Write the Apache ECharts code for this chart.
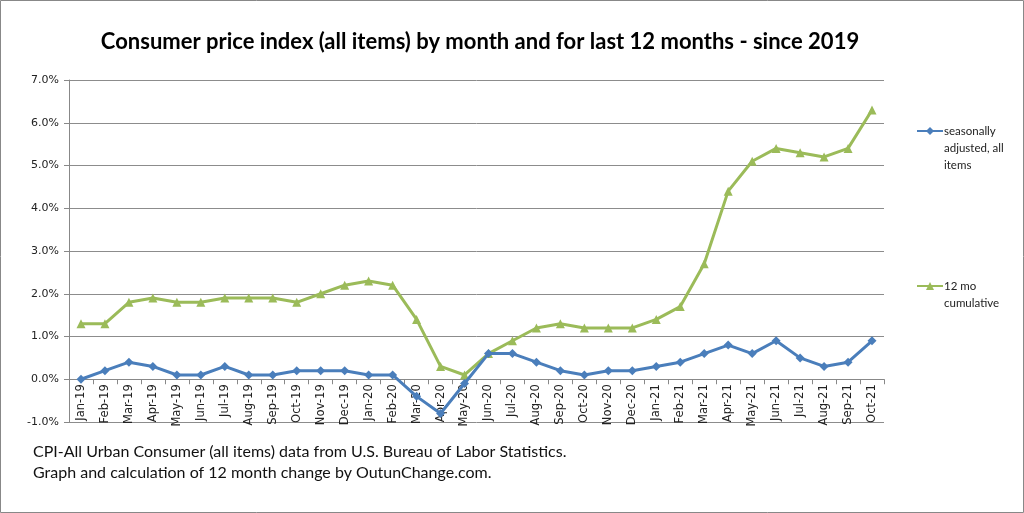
<!DOCTYPE html>
<html>
<head>
<meta charset="utf-8">
<script src="https://cdn.jsdelivr.net/npm/echarts@6/dist/echarts.min.js"></script>
<style>
html,body{margin:0;padding:0;background:#fff;}
#chart{width:1024px;height:513px;}
</style>
</head>
<body>
<div id="chart"></div>
<script>
const categories = ['Jan-19','Feb-19','Mar-19','Apr-19','May-19','Jun-19','Jul-19','Aug-19','Sep-19','Oct-19','Nov-19','Dec-19',
  'Jan-20','Feb-20','Mar-20','Apr-20','May-20','Jun-20','Jul-20','Aug-20','Sep-20','Oct-20','Nov-20','Dec-20',
  'Jan-21','Feb-21','Mar-21','Apr-21','May-21','Jun-21','Jul-21','Aug-21','Sep-21','Oct-21'];
const seasonallyAdjusted = [0.0,0.2,0.4,0.3,0.1,0.1,0.3,0.1,0.1,0.2,0.2,0.2,
  0.1,0.1,-0.4,-0.8,-0.1,0.6,0.6,0.4,0.2,0.1,0.2,0.2,
  0.3,0.4,0.6,0.8,0.6,0.9,0.5,0.3,0.4,0.9];
const cumulative12mo = [1.3,1.3,1.8,1.9,1.8,1.8,1.9,1.9,1.9,1.8,2.0,2.2,
  2.3,2.2,1.4,0.3,0.1,0.6,0.9,1.2,1.3,1.2,1.2,1.2,
  1.4,1.7,2.7,4.4,5.1,5.4,5.3,5.2,5.4,6.3];
const seriesNames = ['seasonally adjusted, all items','12 mo cumulative'];
const titleText = 'Consumer price index (all items) by month and for last 12 months - since 2019';
const footerLines = ['CPI-All Urban Consumer (all items) data from U.S. Bureau of Labor Statistics.',
  'Graph and calculation of 12 month change by OutunChange.com.'];

const blue = '#4A7EBB', green = '#9BBB59';
const yMin = -1, yMax = 7;
const gridTop = 80, gridBottom = 91, chartH = 513;
const plotH = chartH - gridTop - gridBottom;
const zeroOffset = -plotH * (0 - yMin) / (yMax - yMin);

const chart = echarts.init(document.getElementById('chart'), null, {renderer:'canvas'});
const legendText = {
  [seriesNames[0]]: '\n\nseasonally\nadjusted, all\nitems',
  [seriesNames[1]]: '\n12 mo\ncumulative'
};
const legendBase = {
  orient:'vertical', left:916, padding:0, itemWidth:26, itemHeight:10, itemGap:0,
  textStyle:{fontFamily:'Lato', fontSize:11.5, color:'#222', lineHeight:17, padding:[0,0,0,-4]},
  formatter: n => legendText[n], selectedMode:false
};
chart.setOption({
  animation:false,
  backgroundColor:'#fff',
  title:{text:titleText, left:475, textAlign:'center', top:26,
    textStyle:{fontFamily:'Lato', fontWeight:'bold', fontSize:22, color:'#000'}},
  graphic:[
    {type:'rect', shape:{x:0.5,y:0.5,width:1023,height:512}, style:{fill:'none', stroke:'#888', lineWidth:1}, silent:true},
    {type:'text', left:33, top:441, style:{text:footerLines.join('\n'), fontFamily:'Lato', fontSize:16, lineHeight:21, fill:'#111'}}
  ],
  legend:[
    Object.assign({}, legendBase, {top:88.5, data:[seriesNames[0]]}),
    Object.assign({}, legendBase, {top:260.5, data:[seriesNames[1]]})
  ],
  grid:{left:69, right:140, top:gridTop, bottom:gridBottom},
  xAxis:{type:'category', data:categories, boundaryGap:true,
    axisLine:{onZero:false, lineStyle:{color:'#888', width:1}},
    offset: zeroOffset,
    axisTick:{show:true, length:5, lineStyle:{color:'#888'}},
    axisLabel:{interval:0, rotate:90, margin:5, fontFamily:'DejaVu Sans', fontSize:11.5, color:'#222'},
    splitLine:{show:false}},
  yAxis:{type:'value', min:yMin, max:yMax, interval:1,
    axisLine:{show:true, lineStyle:{color:'#888'}},
    axisTick:{show:true, length:5, lineStyle:{color:'#888'}},
    axisLabel:{formatter:v=>v.toFixed(1)+'%', fontFamily:'DejaVu Sans', fontSize:11, color:'#222', margin:10},
    splitLine:{show:true, lineStyle:{color:'#8c8c8c', width:1}}},
  series:[
    {name:seriesNames[0], type:'line', data:seasonallyAdjusted, symbol:'diamond', symbolSize:9,
      lineStyle:{color:blue, width:3}, itemStyle:{color:blue}, z:3},
    {name:seriesNames[1], type:'line', data:cumulative12mo, symbol:'triangle', symbolSize:9,
      lineStyle:{color:green, width:3}, itemStyle:{color:green}, z:2}
  ]
});
</script>
</body>
</html>
